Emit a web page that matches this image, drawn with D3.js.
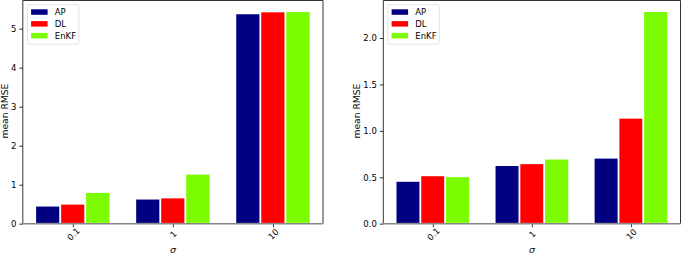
<!DOCTYPE html>
<html>
<head>
<meta charset="utf-8">
<script src="https://cdn.jsdelivr.net/npm/d3@7"></script>
<style>
  body { margin: 0; background: #fff; }
  text { font-family: "DejaVu Sans", sans-serif; fill: #000; }
</style>
</head>
<body>
<script>
// data
var sigmas = ["0.1", "1", "10"];
var methods = ["AP", "DL", "EnKF"];
var colors = ["#000080", "#ff0000", "#7cfc00"];

// left panel
var leftAP = [0.46, 0.64, 5.39];
var leftDL = [0.51, 0.67, 5.44];
var leftEnKF = [0.81, 1.28, 5.45];
var leftTicks = [0, 1, 2, 3, 4, 5];

// right panel
var rightAP = [0.46, 0.63, 0.71];
var rightDL = [0.52, 0.65, 1.14];
var rightEnKF = [0.51, 0.70, 2.29];
var rightTicks = [0, 0.5, 1.0, 1.5, 2.0];

var svg = d3.select("body").append("svg")
    .attr("width", 685)
    .attr("height", 255);

function panel(left, right, series, ticks, fmt, labelX) {
    var top = 0.5, bottom = 223.7;
    var w = right - left, h = bottom - top;
    var maxV = d3.max(series, s => d3.max(s));

    var x = d3.scaleLinear().domain([-0.5, 2.5]).range([0, w]);
    var y = d3.scaleLinear().domain([0, maxV * 1.05]).range([h, 0]);

    var g = svg.append("g")
        .attr("transform", "translate(" + left + "," + top + ")");

    // bars
    series.forEach(function(vals, k) {
        g.selectAll(".bar" + k)
            .data(vals)
            .enter()
            .append("rect")
                .attr("x", (d, i) => x(i + (k - 1) * 0.25 - 0.125))
                .attr("y", d => y(d))
                .attr("width", x(0.25) - x(0))
                .attr("height", d => h - y(d))
                .attr("fill", colors[k])
                .attr("stroke", "#fff")
                .attr("stroke-width", 1.6);
    });

    // y axis
    var yAxis = d3.axisLeft(y)
        .tickValues(ticks)
        .tickFormat(d3.format(fmt))
        .tickSize(3.5)
        .tickPadding(3);
    var ya = g.append("g").call(yAxis);
    ya.select(".domain").remove();
    ya.selectAll("text").style("font-size", "8.5px");
    ya.selectAll("line").attr("stroke", "#000").attr("stroke-width", 0.8);

    // x axis
    var xAxis = d3.axisBottom(x)
        .tickValues([0, 1, 2])
        .tickFormat((d, i) => sigmas[i])
        .tickSize(3.5);
    var xa = g.append("g")
        .attr("transform", "translate(0," + h + ")")
        .call(xAxis);
    xa.select(".domain").remove();
    xa.selectAll("line").attr("stroke", "#000").attr("stroke-width", 0.8);
    xa.selectAll("text")
        .style("font-size", "8.5px")
        .attr("y", 0)
        .attr("dy", "0.35em")
        .attr("text-anchor", "middle")
        .attr("transform", "translate(0,10.5) rotate(-45)");

    // frame
    g.append("line").attr("x1", 0).attr("x2", 0).attr("y1", 0).attr("y2", h)
        .attr("stroke", "#000").attr("stroke-width", 0.8);
    g.append("line").attr("x1", w).attr("x2", w).attr("y1", 0).attr("y2", h)
        .attr("stroke", "#000").attr("stroke-width", 0.8);
    g.append("line").attr("x1", 0).attr("x2", w).attr("y1", 0).attr("y2", 0)
        .attr("stroke", "#000").attr("stroke-width", 0.8);
    g.append("line").attr("x1", -1.5).attr("x2", w).attr("y1", h).attr("y2", h)
        .attr("stroke", "#888").attr("stroke-width", 1.5);

    // axis labels
    g.append("text")
        .attr("x", w / 2)
        .attr("y", 252.5 - top)
        .attr("text-anchor", "middle")
        .style("font-size", "9.5px")
        .style("font-style", "italic")
        .text("σ");
    g.append("text")
        .attr("transform", "rotate(-90)")
        .attr("x", -(h / 2) + 1)
        .attr("y", labelX)
        .attr("text-anchor", "middle")
        .style("font-size", "9.2px")
        .text("mean RMSE");

    // legend
    var lg = g.append("g").attr("transform", "translate(4.5,4.2)");
    lg.append("rect")
        .attr("width", 51.5).attr("height", 39.5)
        .attr("rx", 2)
        .attr("fill", "#fff").attr("fill-opacity", 0.8)
        .attr("stroke", "#ddd").attr("stroke-width", 0.8);
    methods.forEach(function(m, k) {
        lg.append("rect")
            .attr("x", 3.8).attr("y", 4.6 + k * 11.8)
            .attr("width", 16.5).attr("height", 5.5)
            .attr("fill", colors[k]);
        lg.append("text")
            .attr("x", 27.5).attr("y", 7.5 + k * 11.8)
            .attr("dy", "0.35em")
            .style("font-size", "8.5px")
            .text(m);
    });
}

panel(22.8, 323, [leftAP, leftDL, leftEnKF], leftTicks, "d", -15);
panel(383.3, 680.5, [rightAP, rightDL, rightEnKF], rightTicks, ".1f", -23.5);
</script>
</body>
</html>
